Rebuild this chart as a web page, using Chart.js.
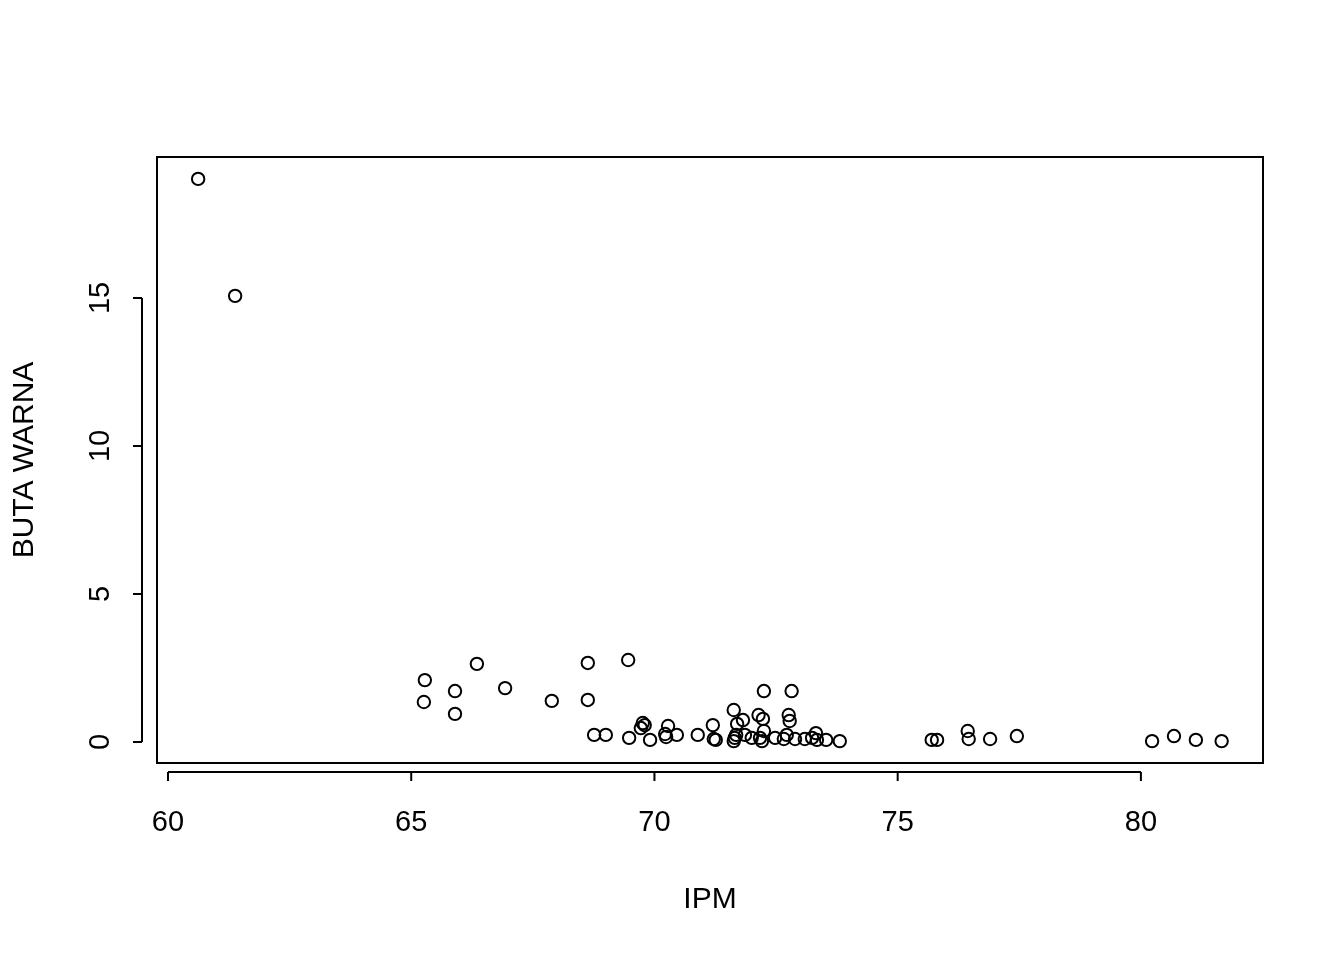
<!DOCTYPE html>
<html lang="en">
<head>
<meta charset="UTF-8">
<title>IPM vs BUTA WARNA</title>
<script src="https://cdn.jsdelivr.net/npm/chart.js"></script>
<style>
  html, body { margin: 0; background: #fff; }
  #wrap { width: 1344px; height: 960px; }
</style>
</head>
<body>
<div id="wrap"><canvas id="c"></canvas></div>
<script>
// IPM (x) and BUTA WARNA (y)
const ipm = [60.62, 61.38, 65.28, 65.26, 65.90, 65.90, 66.35, 66.93, 67.89, 68.63, 68.63, 68.76, 69.00, 69.46,
  69.48, 69.72, 69.76, 69.80, 69.91, 70.22, 70.24, 70.28, 70.46, 70.89, 71.20, 71.22, 71.26, 71.63, 71.65,
  71.63, 71.70, 71.82, 71.68, 71.86, 72.00, 72.14, 72.17, 72.21, 72.23, 72.25, 72.25, 72.48, 72.66, 72.72,
  72.76, 72.78, 72.82, 72.89, 73.09, 73.24, 73.32, 73.34, 73.53, 73.81, 75.70, 75.81, 76.44, 76.46, 76.90,
  77.45, 80.23, 80.68, 81.13, 81.66];
const butaWarna = [19.02, 15.07, 2.09, 1.35, 1.72, 0.95, 2.64, 1.82, 1.39, 2.67, 1.42, 0.24, 0.24, 2.77,
  0.14, 0.47, 0.64, 0.57, 0.07, 0.27, 0.17, 0.54, 0.24, 0.24, 0.57, 0.10, 0.07, 1.08, 0.14,
  0.03, 0.61, 0.74, 0.24, 0.24, 0.14, 0.91, 0.14, 0.03, 0.78, 1.72, 0.37, 0.14, 0.10, 0.24,
  0.91, 0.71, 1.72, 0.10, 0.10, 0.14, 0.30, 0.07, 0.07, 0.03, 0.07, 0.07, 0.37, 0.10, 0.10,
  0.20, 0.03, 0.20, 0.07, 0.03];
const xTicks = [60, 65, 70, 75, 80];
const yTicks = [0, 5, 10, 15];

const points = ipm.map((x, i) => ({ x: x, y: butaWarna[i] }));

// R-style frame, axes, ticks and labels drawn from the chart's own scales
const rAxes = {
  id: 'rAxes',
  afterDraw(chart) {
    const { ctx, chartArea: a, scales } = chart;
    const xs = scales.x, ys = scales.y;
    ctx.save();
    ctx.strokeStyle = '#000';
    ctx.lineWidth = 2;
    ctx.strokeRect(a.left, a.top, a.right - a.left, a.bottom - a.top);
    ctx.fillStyle = '#000';
    ctx.font = '29px "Liberation Sans", Arial, sans-serif';

    // x axis
    const xl = a.bottom + 9;
    ctx.beginPath();
    ctx.moveTo(xs.getPixelForValue(xTicks[0]), xl);
    ctx.lineTo(xs.getPixelForValue(xTicks[xTicks.length - 1]), xl);
    xTicks.forEach(t => {
      const p = xs.getPixelForValue(t);
      ctx.moveTo(p, xl);
      ctx.lineTo(p, xl + 9);
    });
    ctx.stroke();
    ctx.textAlign = 'center';
    ctx.textBaseline = 'middle';
    xTicks.forEach(t => ctx.fillText(String(t), xs.getPixelForValue(t), 823));

    // y axis
    const yl = a.left - 15;
    ctx.beginPath();
    ctx.moveTo(yl, ys.getPixelForValue(yTicks[0]));
    ctx.lineTo(yl, ys.getPixelForValue(yTicks[yTicks.length - 1]));
    yTicks.forEach(t => {
      const p = ys.getPixelForValue(t);
      ctx.moveTo(yl, p);
      ctx.lineTo(yl - 9, p);
    });
    ctx.stroke();
    yTicks.forEach(t => {
      ctx.save();
      ctx.translate(101, ys.getPixelForValue(t));
      ctx.rotate(-Math.PI / 2);
      ctx.fillText(String(t), 0, 0);
      ctx.restore();
    });

    // titles
    ctx.font = '30px "Liberation Sans", Arial, sans-serif';
    ctx.fillText('IPM', (a.left + a.right) / 2, 900);
    ctx.save();
    ctx.translate(25, (a.top + a.bottom) / 2);
    ctx.rotate(-Math.PI / 2);
    ctx.fillText('BUTA WARNA', 0, 0);
    ctx.restore();
    ctx.restore();
  }
};

new Chart(document.getElementById('c'), {
  type: 'scatter',
  data: {
    datasets: [{
      data: points,
      pointStyle: 'circle',
      pointRadius: 6.2,
      borderColor: '#000',
      borderWidth: 2,
      backgroundColor: 'rgba(0,0,0,0)'
    }]
  },
  options: {
    responsive: true,
    maintainAspectRatio: false,
    animation: false,
    layout: { padding: { left: 157, right: 81, top: 157, bottom: 197 } },
    plugins: { legend: { display: false }, tooltip: { enabled: false } },
    scales: {
      x: { type: 'linear', min: 59.774, max: 82.51, display: false },
      y: { type: 'linear', min: -0.71, max: 19.76, display: false }
    }
  },
  plugins: [rAxes]
});
</script>
</body>
</html>
